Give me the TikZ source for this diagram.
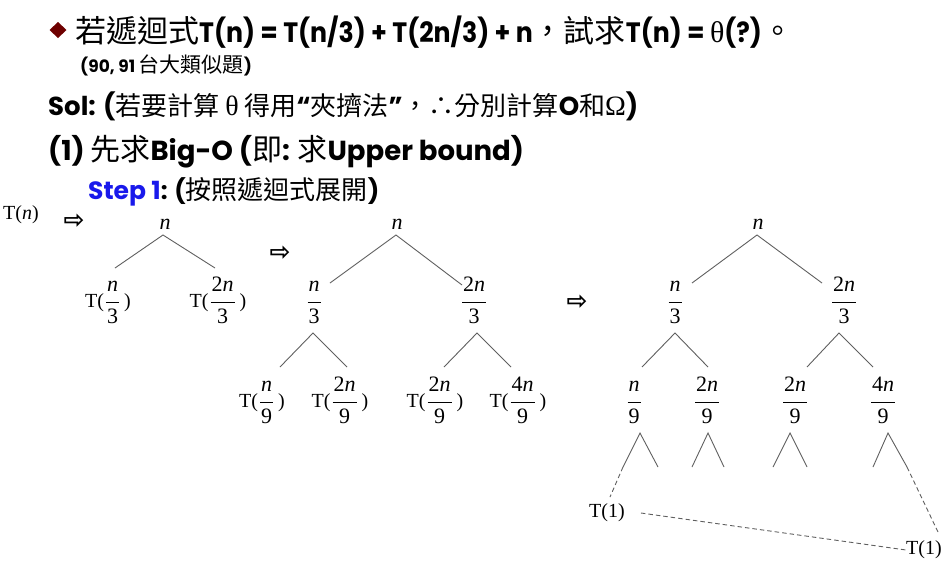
\documentclass[tikz,border=0pt]{standalone}
\usepackage{amsmath}
\usepackage{xcolor}
\usepackage{fontspec}
\usepackage{tikz}
\usetikzlibrary{calc}
\usetikzlibrary{positioning}
\setmainfont{Liberation Serif}
\newfontfamily\latfont{Poppins}
\newfontfamily\cjk{Noto Sans CJK TC}
\newfontfamily\symfont{DejaVu Sans}
\definecolor{darkred}{RGB}{110,0,0}
\definecolor{stepblue}{RGB}{25,25,235}
\definecolor{edgegray}{RGB}{95,95,95}
\newcommand{\sz}[1]{\fontsize{#1}{#1}\selectfont}
\newcommand{\latb}{\latfont\bfseries}
\newcommand{\latn}[1]{\scalebox{0.9}[1]{\latb\sz{28}#1}}
% fraction with the bar on the math axis
\newcommand{\frc}[2]{$\vcenter{\hbox{\sz{22}\renewcommand\arraystretch{0}\setlength\arrayrulewidth{0.8pt}%
	\begin{tabular}{@{\hspace{1pt}}c@{\hspace{1pt}}}\rule[-10pt]{0pt}{26pt}#1\\\hline\rule[-5pt]{0pt}{26pt}#2\end{tabular}}}$}
\newcommand{\tfrc}[2]{T(\hspace{2pt}\frc{#1}{#2}\hspace{5pt})}

\begin{document}
\begin{tikzpicture}[x=1pt,y=-1pt,
	head/.style={inner sep=0pt,anchor=base west},
	tree/.style={inner sep=0pt,font=\sz{20}},
	go/.style={inner sep=0pt,font=\symfont\bfseries\sz{25}},
	edge/.style={draw=edgegray,line width=0.9pt},
	dots/.style={edge,dash pattern=on 4.5pt off 3pt}]
	\useasboundingbox (0,0) rectangle (950,563);
	
	% heading
	\fill[darkred] (58,22) -- (66.5,30) -- (58,38) -- (49.5,30) -- cycle;
	\node[head] (title) at (75,42) {{\cjk\sz{31}若遞迴式}\latn{T(n) = T(n/3) + T(2n/3) + n}{\cjk\sz{31}，試求}\latn{T(n) = }{\sz{30}θ}\latn{(?)}{\cjk\sz{31}。}};
	\node[head] (ref) at (80,72) {{\latb\sz{17}(90, 91 }{\cjk\sz{21}台大類似題}{\latb\sz{17})}};
	\node[head] (sol) at (48,115) {{\latb\sz{26}Sol: (}{\cjk\sz{26}若要計算 }{\sz{28}θ}{\cjk\sz{26} 得用}{\latb\sz{26}“}{\cjk\sz{26}夾擠法}{\latb\sz{26}”}{\cjk\sz{26}，∴分別計算}{\latb\sz{26}O}{\cjk\sz{26}和}{\sz{28}Ω}{\latb\sz{26})}};
	\node[head] (bigo) at (48,160) {{\latb\sz{27.5}(1) }{\cjk\sz{30}先求}{\latb\sz{27.5}Big-O (}{\cjk\sz{30}即}{\latb\sz{27.5}: }{\cjk\sz{30}求}{\latb\sz{27.5}Upper bound)}};
	\node[head] (step) at (88,199) {{\latb\sz{25}\color{stepblue}Step 1}{\latb\sz{24}: (}{\cjk\sz{26}按照遞迴式展開}{\latb\sz{24})}};
	
	% first step
	\node[tree,anchor=base west] (tn) at (3,219) {T(\textit{n})};
	\node[go] (go1) at (74,221) {⇨};
	\node[tree,anchor=base,font=\sz{22}] (r1) at (165,229) {\textit{n}};
	\node[tree] (a1) at (108,302) {\tfrc{\textit{n}}{3}};
	\node[tree] (a2) at (218,302) {\tfrc{2\textit{n}}{3}};
	\coordinate [] (r1b) at (163,235);
	\coordinate [] (a1t) at (115,268);
	\coordinate [] (a2t) at (215,268);
	\draw[edge] (a1t)--(r1b)--(a2t);
	
	% second step
	\node[go] (go2) at (280,253) {⇨};
	\node[tree,anchor=base,font=\sz{22}] (r2) at (397,229) {\textit{n}};
	\node[tree] (b1) at (314,302) {\frc{\textit{n}}{3}};
	\node[tree] (b2) at (474,302) {\frc{2\textit{n}}{3}};
	\node[tree] (c1) at (262,402) {\tfrc{\textit{n}}{9}};
	\node[tree] (c2) at (340,402) {\tfrc{2\textit{n}}{9}};
	\node[tree] (c3) at (435,402) {\tfrc{2\textit{n}}{9}};
	\node[tree] (c4) at (518,402) {\tfrc{4\textit{n}}{9}};
	\coordinate [] (r2b) at (396,235);
	\coordinate [] (b1t) at (330,283);
	\coordinate [] (b2t) at (462,285);
	\coordinate [] (b1b) at (313,333);
	\coordinate [] (b2b) at (477,333);
	\coordinate [] (c1t) at (280,367);
	\coordinate [] (c2t) at (347,367);
	\coordinate [] (c3t) at (444,367);
	\coordinate [] (c4t) at (511,367);
	\draw[edge] (b1t)--(r2b)--(b2t);
	\draw[edge] (c1t)--(b1b)--(c2t);
	\draw[edge] (c3t)--(b2b)--(c4t);
	
	% third step
	\node[go] (go3) at (577,302) {⇨};
	\node[tree,anchor=base,font=\sz{22}] (r3) at (758,229) {\textit{n}};
	\node[tree] (d1) at (675,302) {\frc{\textit{n}}{3}};
	\node[tree] (d2) at (844,302) {\frc{2\textit{n}}{3}};
	\node[tree] (e1) at (634,402) {\frc{\textit{n}}{9}};
	\node[tree] (e2) at (707,402) {\frc{2\textit{n}}{9}};
	\node[tree] (e3) at (795,402) {\frc{2\textit{n}}{9}};
	\node[tree] (e4) at (883,402) {\frc{4\textit{n}}{9}};
	\node[tree] (f1) at (607,513) {T(1)};
	\node[tree] (f2) at (924,550) {T(1)};
	\coordinate [] (r3b) at (757,235);
	\coordinate [] (d1t) at (692,283);
	\coordinate [] (d2t) at (822,283);
	\coordinate [] (d1b) at (675,333);
	\coordinate [] (d2b) at (839,333);
	\coordinate [] (e1t) at (642,367);
	\coordinate [] (e2t) at (708,367);
	\coordinate [] (e3t) at (807,367);
	\coordinate [] (e4t) at (873,367);
	\draw[edge] (d1t)--(r3b)--(d2t);
	\draw[edge] (e1t)--(d1b)--(e2t);
	\draw[edge] (e3t)--(d2b)--(e4t);
	
	% small carets under the n/9 level
	\coordinate [] (e1b) at (640,433);
	\coordinate [] (e2b) at (708,433);
	\coordinate [] (e3b) at (790,433);
	\coordinate [] (e4b) at (888,433);
	\coordinate [] (e1l) at (623,467);
	\coordinate [] (e1r) at (658,467);
	\coordinate [] (e2l) at (692,467);
	\coordinate [] (e2r) at (724,467);
	\coordinate [] (e3l) at (773,467);
	\coordinate [] (e3r) at (807,467);
	\coordinate [] (e4l) at (873,467);
	\coordinate [] (e4r) at (907,467);
	\draw[edge] (e1l)--(e1b)--(e1r);
	\draw[edge] (e2l)--(e2b)--(e2r);
	\draw[edge] (e3l)--(e3b)--(e3r);
	\draw[edge] (e4l)--(e4b)--(e4r);
	\coordinate [] (f1t) at (610,497);
	\coordinate [] (f2t) at (938,532);
	\draw[dots] (e1l)--(f1t);
	\draw[dots] (e4r)--(f2t);
	\draw[dots] ([xshift=16pt]f1.east)--(f2.west);
\end{tikzpicture}
\end{document}
